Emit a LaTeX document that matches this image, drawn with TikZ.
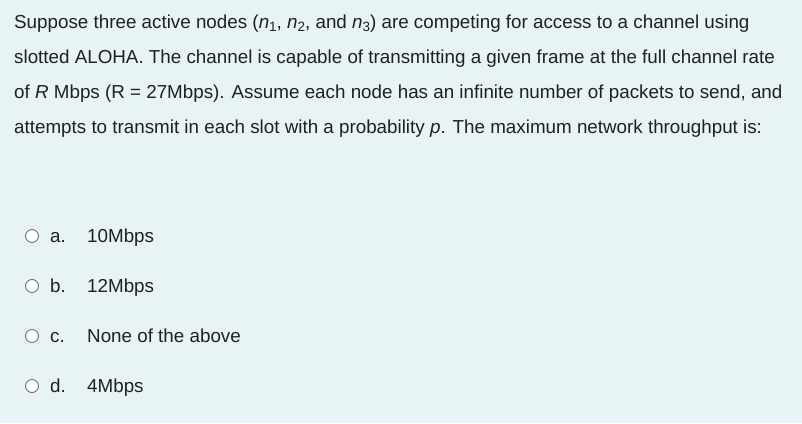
\documentclass[tikz,border=0pt]{standalone}
\usepackage{fontspec}
\setmainfont{Liberation Sans}
\definecolor{bg}{HTML}{E7F3F5}
\definecolor{tx}{HTML}{1D2125}
\definecolor{rc}{HTML}{6A737B}
\newcommand{\sbx}[1]{\raisebox{-0.35ex}{\fontsize{13.5}{13.5}\selectfont #1}}
\begin{document}
\begin{tikzpicture}[x=1pt,y=-1pt,
  line/.style={anchor=base west,inner sep=0pt,text=tx,font=\fontsize{18.8}{22}\selectfont},
  radio/.style={circle,draw=rc,line width=0.9pt,minimum size=13pt,inner sep=0pt,fill=white}]
\fill[bg] (0,0) rectangle (802,423);
\useasboundingbox (0,0) rectangle (802,423);
\node[line] (l1) at (14,28) {Suppose three active nodes (\textit{n}\sbx{1}, \textit{n}\sbx{2}, and \textit{n}\sbx{3}) are competing for access to a channel using};
\node[line] (l2) at (14,63) {slotted ALOHA. The channel is capable of transmitting a given frame at the full channel rate};
\node[line] (l3) at (14,98) {of \textit{R} Mbps (R = 27Mbps). Assume each node has an infinite number of packets to send, and};
\node[line] (l4) at (14,133) {attempts to transmit in each slot with a probability \textit{p}. The maximum network throughput is:};
\foreach \y/\l/\t [count=\i] in {236/a./10Mbps,286/b./12Mbps,336/c./None of the above,386/d./4Mbps}{
  \node[radio] (r\i) at (32,\y) {};
  \node[line] (k\i) at (50,\y+6.5) {\l};
  \node[line] (t\i) at (87,\y+6.5) {\t};
}
\end{tikzpicture}
\end{document}
